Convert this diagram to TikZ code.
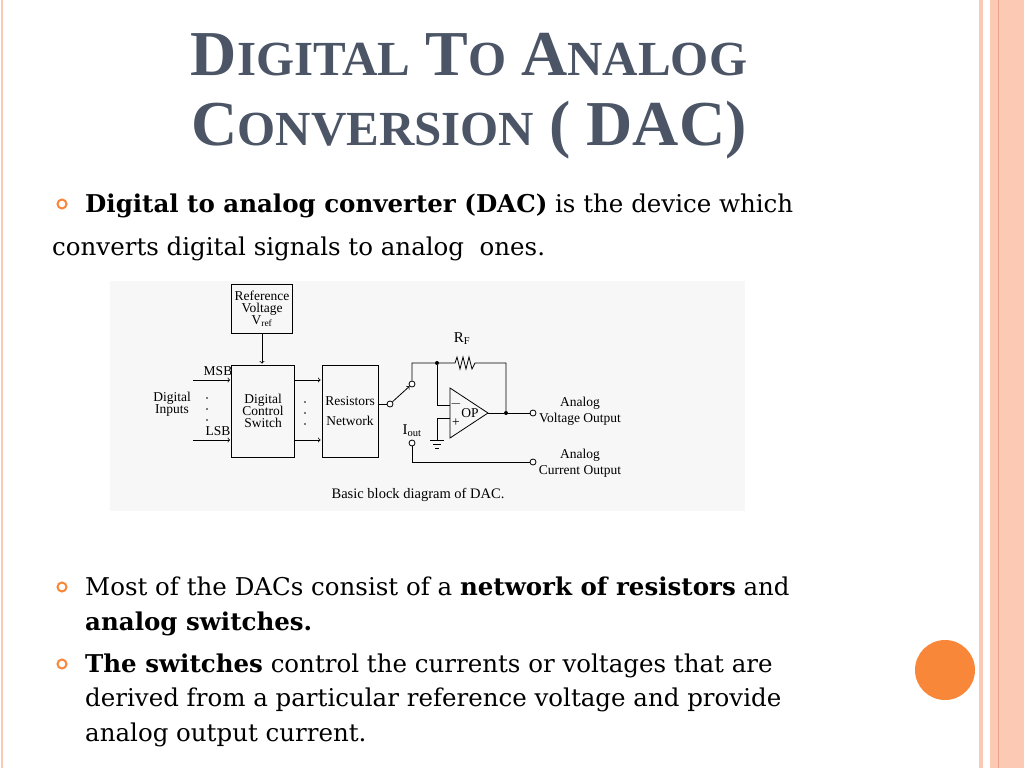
\documentclass[tikz,border=0pt]{standalone}
\usepackage{fontspec}
\setmainfont{Liberation Serif}
\newfontfamily\bodyfont{DejaVu Serif}
\usetikzlibrary{arrows,positioning}
\definecolor{titlegray}{HTML}{4B5566}
\definecolor{peach}{HTML}{FBC9B4}
\definecolor{peachline}{HTML}{E9A287}
\definecolor{dotorange}{HTML}{F98739}
\newcommand{\capsword}[2]{{\fontsize{64}{66}\selectfont #1}{\fontsize{49}{50}\selectfont #2}}
\newcommand{\capspace}{\hspace{15pt}}
\tikzset{
    %Define standard arrow tip
    >=stealth',
    %Define style for title and body text
    heading/.style={
           anchor=base,
           text=titlegray,
           font=\bfseries},
    bodytext/.style={
           anchor=base west,
           inner sep=0pt,
           font=\bodyfont\fontsize{24.5}{30}\selectfont},
    bullet/.style={
           circle,
           draw=dotorange,
           line width=2pt,
           minimum size=9pt,
           inner sep=0pt},
    %Define style for boxes
    box/.style={
           rectangle,
           draw=black, thick,
           align=center,
           font=\fontsize{13.5}{14}\selectfont},
    label/.style={
           align=center,
           inner sep=1pt,
           font=\fontsize{13.5}{14}\selectfont},
    dot/.style={
           circle,
           fill=black,
           minimum size=1.6pt,
           inner sep=0pt},
    % Define arrow style
    imply/.style={
           -to,
           thick,
           shorten >=1pt},
    wire/.style={
           thick},
    terminal/.style={
           circle,
           draw, thick,
           fill=white,
           minimum size=6pt,
           inner sep=0pt},
    junction/.style={
           circle,
           fill=black,
           minimum size=4pt,
           inner sep=0pt}
}
\begin{document}
\begin{tikzpicture}[x=1pt,y=-1pt]
 %page
    \useasboundingbox (0,0) rectangle (1024,768);
    \fill[white] (0,0) rectangle (1024,768);
    \fill[peach] (979,0) rectangle (983,768);
    \fill[peach] (990,0) rectangle (1024,768);
    \draw[peachline, thick] (998,0) -- (998,768);
    \fill[peach] (1,0) rectangle (3,768);
    \fill[dotorange] (945,670) circle (30);
 %title
    \node[heading] (title1) at (469,75) {\capsword{D}{IGITAL}\capspace\capsword{T}{O}\capspace\capsword{A}{NALOG}};
    \node[heading] (title2) at (469,145) {\capsword{C}{ONVERSION}\capspace{\fontsize{64}{66}\selectfont ( DAC)}};
 %text
    \node[bullet] (b1) at (62,204) {};
    \node[bodytext] (t1) at (85,212) {\textbf{Digital to analog converter (DAC)} is the device which};
    \node[bodytext] (t2) at (52,255) {converts digital signals to analog\ \ ones.};
    \node[bullet] (b2) at (62,587) {};
    \node[bodytext] (t3) at (85,595) {Most of the DACs consist of a \textbf{network of resistors} and};
    \node[bodytext] (t4) at (85,630) {\textbf{analog switches.}};
    \node[bullet] (b3) at (62,664) {};
    \node[bodytext] (t5) at (85,672) {\textbf{The switches} control the currents or voltages that are};
    \node[bodytext] (t6) at (85,706) {derived from a particular reference voltage and provide};
    \node[bodytext] (t7) at (85,741) {analog output current.};
 %diagram nodes
    \fill[black!3] (110,281) rectangle (745,511);
    \node[box, minimum width=55pt, minimum height=49pt] (ref) at (262,309) {Reference\\[-2pt]Voltage\\[-2pt]V\textsubscript{ref}};
    \node[box, minimum width=63pt, minimum height=92pt] (dcs) at (263,411) {Digital\\[-2pt]Control\\[-2pt]Switch};
    \node[box, minimum width=48pt, minimum height=92pt] (net) at (350,411) {Resistors\\[6pt]Network};
    \node[label] (din) at (172,404) {Digital\\[-2pt]Inputs};
    \node[label] (msb) at (218,371) {MSB};
    \node[label] (lsb) at (218,431) {LSB};
    \foreach \y in {398,409,420} {
        \node[dot] at (207,\y) {};
        \node[dot] at (305,\y+4) {};
    }
    \coordinate (msbin) at (193,380);
    \coordinate (lsbin) at (193,440);
    \node[terminal] (iout) at (390,404) {};
    \node[label, font=\fontsize{15}{15}\selectfont] (ioutl) at (412,431) {I\textsubscript{out}};
    \node[terminal] (sw1) at (412,384) {};
    \node[terminal] (sw2) at (412,443) {};
    \coordinate (optop) at (450,388);
    \coordinate (opbot) at (450,438);
    \coordinate (opapex) at (488,413);
    \node[label] (opl) at (470,413) {OP};
    \node[label] (minus) at (456,404) {$-$};
    \node[label] (plus) at (456,423) {+};
    \node[junction] (fb) at (437,363) {};
    \node[junction] (out) at (506,413) {};
    \node[terminal] (vout) at (533,413) {};
    \node[terminal] (cout) at (533,462) {};
    \node[label, font=\fontsize{15}{15}\selectfont] (rf) at (462,339) {R\textsubscript{F}};
    \node[label] (vlab) at (580,411) {Analog\\[2pt]Voltage Output};
    \node[label] (clab) at (580,463) {Analog\\[2pt]Current Output};
    \node[label, font=\fontsize{14.5}{15}\selectfont] (cap) at (418,495) {Basic block diagram of DAC.};
    \coordinate (gnd) at (437,440);
 %edges
    \draw[imply] (ref.south -| ref) -- (dcs.north -| ref);
    \draw[imply] (msbin) -- (msbin -| dcs.west);
    \draw[imply] (lsbin) -- (lsbin -| dcs.west);
    \draw[imply] (dcs.east |- msbin) -- (net.west |- msbin);
    \draw[imply] (dcs.east |- lsbin) -- (net.west |- lsbin);
    \draw[wire] (net.east |- iout) -- (iout);
    \draw[wire, -to] (iout) -- (sw1);
    \draw[wire] (optop) -- (opapex) -- (opbot) -- cycle;
    \draw[wire] (sw1) |- (fb) -- (455,363) -- (457,357) -- (460,369) -- (463,357)
          -- (466,369) -- (469,357) -- (472,369) -- (475,363) -| (out);
    \draw[wire] (fb) |- (450,405);
    \draw[wire] (450,418) -| (gnd);
    \draw[wire] (gnd) ++(-7,0) -- ++(14,0) ++(-11,4) -- ++(8,0) ++(-6,4) -- ++(4,0);
    \draw[wire] (opapex) -- (out) -- (vout);
    \draw[wire] (sw2) |- (cout);
\end{tikzpicture}
\end{document}
